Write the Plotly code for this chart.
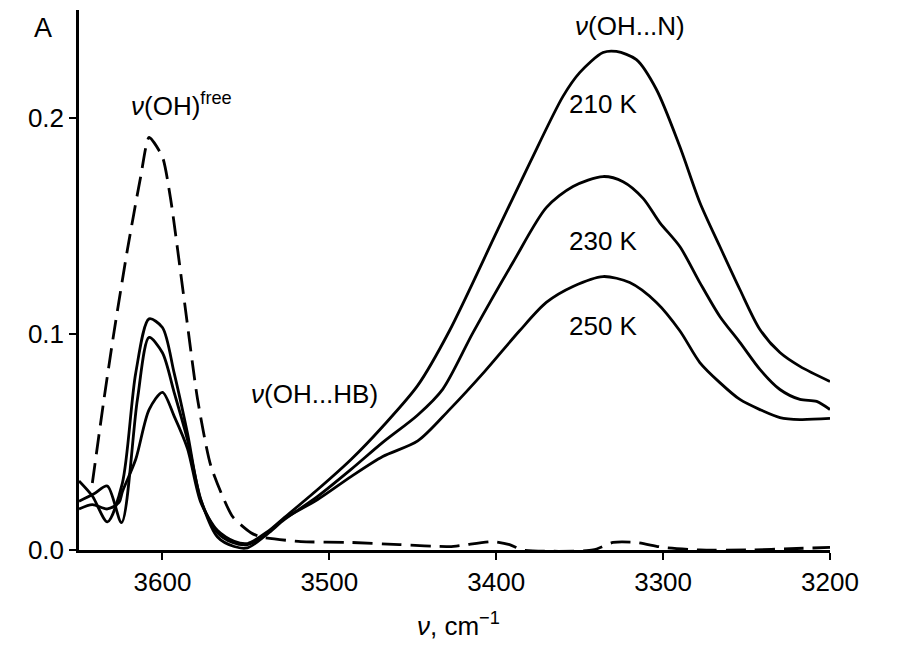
import plotly.graph_objects as go

# ---- data ----
x_210 = [3650, 3642, 3633, 3626, 3624, 3616, 3608, 3600, 3593, 3585, 3577, 3567, 3557, 3549,
         3537, 3527, 3507, 3487, 3468, 3447, 3428, 3399, 3380, 3360, 3350, 3336, 3328, 3316,
         3304, 3290, 3278, 3266, 3254, 3242, 3230, 3218, 3200]
y_210 = [0.019, 0.021, 0.019, 0.022, 0.027, 0.042, 0.065, 0.073, 0.062, 0.047, 0.022, 0.009, 0.004, 0.003,
         0.0085, 0.015, 0.028, 0.0419, 0.0572, 0.0762, 0.1015, 0.1484, 0.179, 0.21, 0.221, 0.2303, 0.2308, 0.227,
         0.2132, 0.1868, 0.1609, 0.1405, 0.1206, 0.1021, 0.0914, 0.085, 0.078]

x_230 = [3650, 3641, 3633, 3624.5, 3615, 3608, 3600, 3593, 3585, 3577, 3567, 3557, 3549,
         3537, 3527, 3507, 3487, 3468, 3447, 3432, 3414, 3390, 3370, 3354, 3336, 3324, 3312,
         3302, 3290, 3278, 3266, 3254, 3242, 3230, 3218, 3208, 3200]
y_230 = [0.0226, 0.026, 0.0296, 0.0127, 0.0697, 0.0984, 0.0913, 0.073, 0.051, 0.0234, 0.006, 0.0016, 0.001,
         0.0075, 0.014, 0.0248, 0.0373, 0.0498, 0.0625, 0.0745, 0.1005, 0.1331, 0.1585, 0.1683, 0.1729, 0.1705, 0.1628,
         0.1516, 0.1405, 0.1238, 0.1081, 0.0961, 0.0836, 0.0743, 0.0697, 0.0688, 0.065]

x_250 = [3650, 3642, 3633, 3624, 3616, 3608, 3600, 3593, 3585, 3577, 3567, 3558, 3549,
         3537, 3527, 3507, 3487, 3468, 3447, 3428, 3407, 3386, 3370, 3354, 3336, 3320, 3304,
         3290, 3278, 3266, 3254, 3242, 3230, 3218, 3200]
y_250 = [0.032, 0.025, 0.013, 0.031, 0.082, 0.107, 0.103, 0.082, 0.054, 0.023, 0.008, 0.0035, 0.0025,
         0.008, 0.0145, 0.0234, 0.034, 0.0433, 0.0505, 0.065, 0.0826, 0.1015, 0.1146, 0.122, 0.1266, 0.1238, 0.1146,
         0.1015, 0.0868, 0.0775, 0.0697, 0.065, 0.0613, 0.0604, 0.0609]

x_dash = [3642, 3635, 3629, 3621, 3613, 3608, 3600, 3595, 3587, 3579, 3571, 3558, 3547, 3541, 3517,
          3487, 3458, 3428, 3402, 3392, 3384, 3342, 3330, 3316, 3300, 3278, 3250, 3220, 3200]
y_dash = [0.031, 0.070, 0.101, 0.139, 0.173, 0.191, 0.182, 0.162, 0.116, 0.070, 0.039, 0.0155, 0.008, 0.006, 0.0039,
          0.0035, 0.0025, 0.0016, 0.0039, 0.0025, 0.0, 0.0, 0.0035, 0.0035, 0.0012, 0.0, 0.0, 0.0007, 0.0012]

x_ticks = [3600, 3500, 3400, 3300, 3200]
y_ticks = [0.0, 0.1, 0.2]
y_ticktext = ["0.0", "0.1", "0.2"]

FONT = "Liberation Sans, Arial, Helvetica, sans-serif"

fig = go.Figure()
for xs, ys in [(x_210, y_210), (x_230, y_230), (x_250, y_250)]:
    fig.add_trace(go.Scatter(x=xs, y=ys, mode="lines",
                             line=dict(color="black", width=2.8, shape="spline", smoothing=0.8),
                             showlegend=False, hoverinfo="skip"))
fig.add_trace(go.Scatter(x=x_dash, y=y_dash, mode="lines",
                         line=dict(color="black", width=2.8, dash="20px,9px", shape="spline", smoothing=0.6),
                         showlegend=False, hoverinfo="skip"))

labels = [
    (3588.6, 0.2063, "<i>ν</i>(OH)<sup>free</sup>"),
    (3509, 0.072, "<i>ν</i>(OH...HB)"),
    (3319.8, 0.2428, "<i>ν</i>(OH...N)"),
    (3335.9, 0.2067, "210 K"),
    (3335.9, 0.1431, "230 K"),
    (3335.9, 0.1035, "250 K"),
]
for x, y, t in labels:
    fig.add_annotation(x=x, y=y, xref="x", yref="y", text=t, showarrow=False,
                       font=dict(family=FONT, size=26, color="black"),
                       xanchor="center", yanchor="middle")

fig.add_annotation(x=-0.048, y=0.967, xref="paper", yref="paper", text="A", showarrow=False,
                   font=dict(family=FONT, size=27, color="black"), xanchor="center", yanchor="middle")
fig.add_annotation(x=0.5047, y=-0.138, xref="paper", yref="paper", text="<i>ν</i>, cm<sup>−1</sup>",
                   showarrow=False, font=dict(family=FONT, size=26, color="black"),
                   xanchor="center", yanchor="middle")

fig.update_layout(
    width=897, height=650,
    margin=dict(l=79, r=67, t=10, b=100),
    paper_bgcolor="white", plot_bgcolor="white",
    font=dict(family=FONT, size=26, color="black"),
)
fig.update_xaxes(range=[3650, 3200], tickvals=x_ticks, showgrid=False, zeroline=False,
                 showline=True, linecolor="black", linewidth=2.5, ticks="outside",
                 ticklen=7, tickwidth=2, tickcolor="black",
                 tickfont=dict(family=FONT, size=26, color="black"))
fig.update_yaxes(range=[0, 0.25], tickvals=y_ticks, ticktext=y_ticktext, showgrid=False,
                 zeroline=False, showline=True, linecolor="black", linewidth=2.5,
                 ticks="outside", ticklen=7, tickwidth=2, tickcolor="black",
                 tickfont=dict(family=FONT, size=26, color="black"))

fig.write_html("out.html")
